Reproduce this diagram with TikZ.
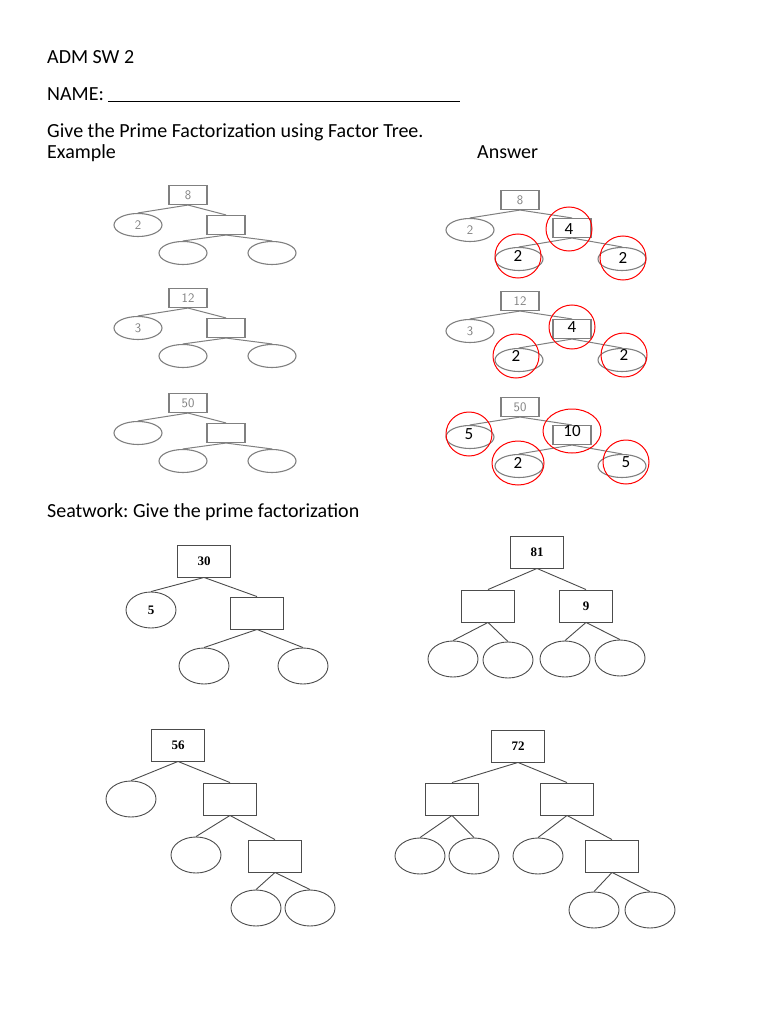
\documentclass[tikz,border=0pt]{standalone}
\usetikzlibrary{shapes.geometric}
\usepackage{fontspec}
\setmainfont{Carlito}
\newfontfamily\serifnum{Liberation Serif}
\begin{document}
\begin{tikzpicture}[x=1pt,y=-1pt,
  txt/.style={anchor=base west,inner sep=0pt,font=\fontsize{20}{22}\selectfont},
  eb/.style={draw=gray,line width=1.1pt,minimum width=38pt,minimum height=19pt,inner sep=0pt,text=gray,font=\sffamily\fontsize{13}{14}\selectfont},
  ee/.style={draw=gray,line width=1.1pt,ellipse,minimum width=48pt,minimum height=23pt,inner sep=0pt,text=gray,font=\sffamily\fontsize{13}{14}\selectfont},
  sb/.style={draw=black!70,line width=0.9pt,minimum width=53pt,minimum height=32pt,inner sep=0pt,font=\serifnum\bfseries\fontsize{13}{14}\selectfont},
  se/.style={draw=black!70,line width=0.9pt,ellipse,minimum width=50pt,minimum height=36pt,inner sep=0pt,font=\serifnum\bfseries\fontsize{13}{14}\selectfont},
  el/.style={draw=gray,line width=1pt},
  sl/.style={draw=black!70,line width=0.9pt},
  rc/.style={draw=red,line width=1pt,ellipse,minimum width=46pt,minimum height=44pt,inner sep=0pt,font=\fontsize{17}{18}\selectfont}]
\useasboundingbox (0,0) rectangle (768,1024);
\fill[white] (0,0) rectangle (768,1024);
\node[txt] (t1) at (47,64) {ADM SW 2};
\node[txt] (t2) at (47,101) {NAME: \rule[-1pt]{352pt}{0.7pt}};
\node[txt] (t3) at (47,138) {Give the Prime Factorization using Factor Tree.};
\node[txt] (t4) at (47,159) {Example};
\node[txt] (t5) at (477,159) {Answer};
\node[txt] (t6) at (47,517) {Seatwork:\ Give the prime factorization};
% example left
\foreach \n/\dy/\lab/\ll in {a/0/8/2,b/103/12/3,c/208/50/}{
 \node[eb] (\n r) at (188,195+\dy) {\lab};
 \node[ee] (\n l) at (138,225+\dy) {\ll};
 \node[eb] (\n m) at (226,225+\dy) {};
 \node[ee] (\n x) at (183,253+\dy) {};
 \node[ee] (\n y) at (272,253+\dy) {};
 \draw[el] (\n r.south) -- (\n l.north);
 \draw[el] (\n r.south) -- (\n m.north);
 \draw[el] (\n m.south) -- (\n x.north);
 \draw[el] (\n m.south) -- (\n y.north);
}
% example right
\foreach \n/\dy/\lab/\ll in {d/0/8/2,e/101/12/3,f/207/50/}{
 \node[eb] (\n r) at (520,200+\dy) {\lab};
 \node[ee] (\n l) at (470,230+\dy) {\ll};
 \node[eb] (\n m) at (572,228+\dy) {};
 \node[ee] (\n x) at (519,259+\dy) {};
 \node[ee] (\n y) at (622,259+\dy) {};
 \draw[el] (\n r.south) -- (\n l.north);
 \draw[el] (\n r.south) -- (\n m.north);
 \draw[el] (\n m.south) -- (\n x.north);
 \draw[el] (\n m.south) -- (\n y.north);
}
\node[rc] (r1) at (569,229) {4};
\node[rc] (r2) at (518,256) {2};
\node[rc] (r3) at (623,258) {2};
\node[rc] (r4) at (572,327) {4};
\node[rc] (r5) at (516,356) {2};
\node[rc] (r6) at (624,355) {2};
\node[rc] (r7) at (469,434) {5};
\node[rc,minimum width=58pt] (r8) at (572,431) {10};
\node[rc,minimum width=52pt] (r9) at (518,463) {2};
\node[rc] (r10) at (626,462) {5};
% seatwork 30
\node[sb] (a1) at (204,561) {30};
\node[se] (a2) at (151,610) {5};
\node[sb] (a3) at (257,613) {};
\node[se] (a4) at (204,666) {};
\node[se] (a5) at (303,666) {};
\draw[sl] (a1.south) -- (a2.north) (a1.south) -- (a3.north) (a3.south) -- (a4.north) (a3.south) -- (a5.north);
% 81
\node[sb] (b1) at (537,552) {81};
\node[sb] (b2) at (488,606) {};
\node[sb] (b3) at (586,606) {9};
\node[se] (b4) at (453,659) {};
\node[se] (b5) at (508,660) {};
\node[se] (b6) at (565,659) {};
\node[se] (b7) at (620,658) {};
\draw[sl] (b1.south) -- (b2.north) (b1.south) -- (b3.north) (b2.south) -- (b4.north) (b2.south) -- (b5.north) (b3.south) -- (b6.north) (b3.south) -- (b7.north);
% 56
\node[sb] (c1) at (178,745) {56};
\node[se] (c2) at (131,799) {};
\node[sb] (c3) at (230,799) {};
\node[se] (c4) at (196,855) {};
\node[sb] (c5) at (275,856) {};
\node[se] (c6) at (256,908) {};
\node[se] (c7) at (310,908) {};
\draw[sl] (c1.south) -- (c2.north) (c1.south) -- (c3.north) (c3.south) -- (c4.north) (c3.south) -- (c5.north) (c5.south) -- (c6.north) (c5.south) -- (c7.north);
% 72
\node[sb] (d1) at (518,746) {72};
\node[sb] (d2) at (452,799) {};
\node[sb] (d3) at (567,799) {};
\node[se] (d4) at (420,856) {};
\node[se] (d5) at (474,856) {};
\node[se] (d6) at (538,856) {};
\node[sb] (d7) at (612,856) {};
\node[se] (d8) at (594,910) {};
\node[se] (d9) at (650,910) {};
\draw[sl] (d1.south) -- (d2.north) (d1.south) -- (d3.north) (d2.south) -- (d4.north) (d2.south) -- (d5.north) (d3.south) -- (d6.north) (d3.south) -- (d7.north) (d7.south) -- (d8.north) (d7.south) -- (d9.north);
\end{tikzpicture}
\end{document}
